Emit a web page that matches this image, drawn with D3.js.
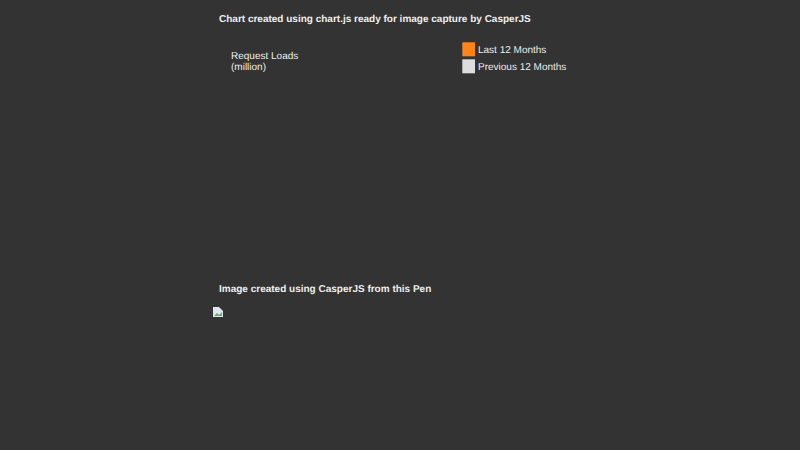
<!DOCTYPE html>
<html>
<head>
    <script src="https://d3js.org/d3.v7.min.js"></script>
    <style>
        html, body { margin: 0; padding: 0; background: #333; overflow: hidden; }
        text { font-family: "Liberation Sans", Arial, sans-serif; fill: #eee; text-rendering: geometricPrecision; }
        .heading { font-size: 10px; font-weight: bold; }
        .label { font-size: 10px; }
    </style>
</head>
<body>
    <svg id="chart" width="800" height="450"></svg>

    <script>
        const headings = ["Chart created using chart.js ready for image capture by CasperJS", "Image created using CasperJS from this Pen"];
        const yTitle = ["Request Loads", "(million)"];
        const seriesNames = ["Last 12 Months", "Previous 12 Months"];
        const seriesColors = ["#ff851b", "#dddddd"];

        const svg = d3.select("#chart");
        const color = d3.scaleOrdinal().domain(seriesNames).range(seriesColors);
        const legendY = d3.scalePoint().domain(seriesNames).range([49.3, 66.3]);

        // page headings
        svg.selectAll("text.heading").data(headings)
            .join("text")
            .attr("class", "heading")
            .attr("x", 219)
            .attr("y", (d, i) => i == 0 ? 21.5 : 292)
            .text(d => d);

        // y axis title
        svg.selectAll("text.ytitle").data(yTitle)
            .join("text")
            .attr("class", "label ytitle")
            .attr("x", 231)
            .attr("y", (d, i) => 59 + i * 11)
            .text(d => d);

        // legend
        const legend = svg.selectAll("g.legend-item").data(seriesNames)
            .join("g")
            .attr("class", "legend-item")
            .attr("transform", d => `translate(462.3, ${legendY(d)})`);

        legend.append("rect")
            .attr("y", -7)
            .attr("width", 12.7)
            .attr("height", 14)
            .attr("fill", d => color(d));

        legend.append("text")
            .attr("class", "label")
            .attr("x", 15.7)
            .attr("y", 3.3)
            .text(d => d);

        // broken image icon
        const icon = svg.append("g").attr("transform", "translate(213, 307)");
        icon.append("path").attr("d", "M0,0H6L10,4V10H0Z").attr("fill", "#dfe6ee");
        icon.append("path").attr("d", "M1,9L4,6L6,8L9,5V9Z").attr("fill", "#6fa76f");
    </script>
</body>
</html>
